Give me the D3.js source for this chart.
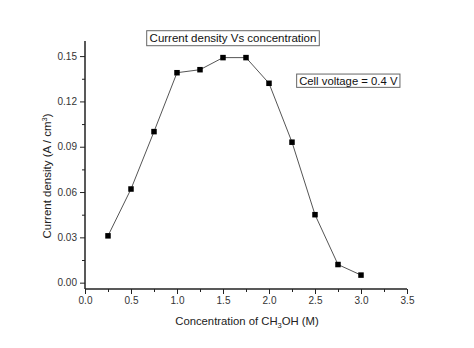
<!DOCTYPE html>
<html><head><meta charset="utf-8">
<script src="https://cdn.jsdelivr.net/npm/d3@7"></script>
<style>body{margin:0;background:#fff}svg{display:block}text{font-family:Arial,"Liberation Sans",sans-serif}</style>
</head><body>
<svg id="c" width="474" height="348"></svg>
<script>
const concentration = [0.25, 0.5, 0.75, 1.0, 1.25, 1.5, 1.75, 2.0, 2.25, 2.5, 2.75, 3.0];
const currentDensity = [0.031, 0.062, 0.100, 0.139, 0.141, 0.149, 0.149, 0.132, 0.093, 0.045, 0.012, 0.005];
const xTicks = [0, 0.5, 1.0, 1.5, 2.0, 2.5, 3.0, 3.5];
const yTicks = [0, 0.03, 0.06, 0.09, 0.12, 0.15];
const titleText = "Current density Vs concentration";
const noteText = "Cell voltage = 0.4 V";

const svg = d3.select("#c");
const x = d3.scaleLinear().domain([0, 3.5]).range([85, 407]);
const y = d3.scaleLinear().domain([-0.0042, 0.16]).range([289, 41]);
const axisColor = "#222";

const xMinor = d3.range(0.25, 3.5, 0.5);
const yMinor = d3.range(0.015, 0.16, 0.03);
const gx = svg.append("g").attr("transform", "translate(0,289)")
  .call(d3.axisBottom(x).tickValues(xTicks).tickFormat(d3.format(".1f")).tickSize(5).tickPadding(3));
svg.append("g").attr("transform", "translate(0,289)")
  .call(d3.axisBottom(x).tickValues(xMinor).tickFormat("").tickSize(3))
  .select(".domain").remove();
const gy = svg.append("g").attr("transform", "translate(85,0)")
  .call(d3.axisLeft(y).tickValues(yTicks).tickFormat(d3.format(".2f")).tickSize(5).tickPadding(3));
svg.append("g").attr("transform", "translate(85,0)")
  .call(d3.axisLeft(y).tickValues(yMinor).tickFormat("").tickSize(3))
  .select(".domain").remove();
svg.selectAll(".domain").attr("stroke", axisColor).attr("stroke-width", 1.5);
gx.select(".domain").attr("d", `M${x(0)},0H${x(3.5)}`);
gy.select(".domain").attr("d", `M0,${y(-0.0042)}V${y(0.16)}`);
svg.selectAll(".tick line").attr("stroke", axisColor);
svg.selectAll(".tick text").attr("fill", "#333").style("font-size", "10px").style("font-family", "Arial, 'Liberation Sans', sans-serif");

const line = d3.line().x((d,i)=>x(concentration[i])).y(d=>y(d));
svg.append("path").datum(currentDensity).attr("d", line)
  .attr("fill", "none").attr("stroke", "#555").attr("stroke-width", 1);
svg.selectAll("rect.pt").data(currentDensity).enter().append("rect").attr("class","pt")
  .attr("x", (d,i)=>x(concentration[i]) - 2.75).attr("y", d=>y(d) - 2.75)
  .attr("width", 5.5).attr("height", 5.5).attr("fill", "#000");

const xt = svg.append("text").attr("x", 247).attr("y", 325).attr("text-anchor", "middle")
  .attr("fill", "#222").style("font-size", "11.3px");
xt.append("tspan").text("Concentration of CH");
xt.append("tspan").text("3").attr("dy", 3).style("font-size", "7.5px");
xt.append("tspan").text("OH (M)").attr("dy", -3);

const yt = svg.append("text").attr("transform", "translate(51,176) rotate(-90)").attr("text-anchor", "middle")
  .attr("fill", "#222").style("font-size", "11.5px");
yt.append("tspan").text("Current density (A / cm");
yt.append("tspan").text("3").attr("dy", -4).style("font-size", "7.5px");
yt.append("tspan").text(")").attr("dy", 4);

function box(cx, cy, w, h, t, fs) {
  svg.append("rect").attr("x", cx - w/2).attr("y", cy - h/2).attr("width", w).attr("height", h)
    .attr("fill", "#fff").attr("stroke", "#666").attr("stroke-width", 1);
  svg.append("text").attr("x", cx).attr("y", cy + 4.1).attr("text-anchor", "middle")
    .attr("fill", "#111").style("font-size", fs).text(t);
}
box(233, 38.2, 172.6, 15, titleText, "11.5px");
box(348.3, 80.7, 103.3, 13.3, noteText, "11.3px");
</script>
</body></html>
